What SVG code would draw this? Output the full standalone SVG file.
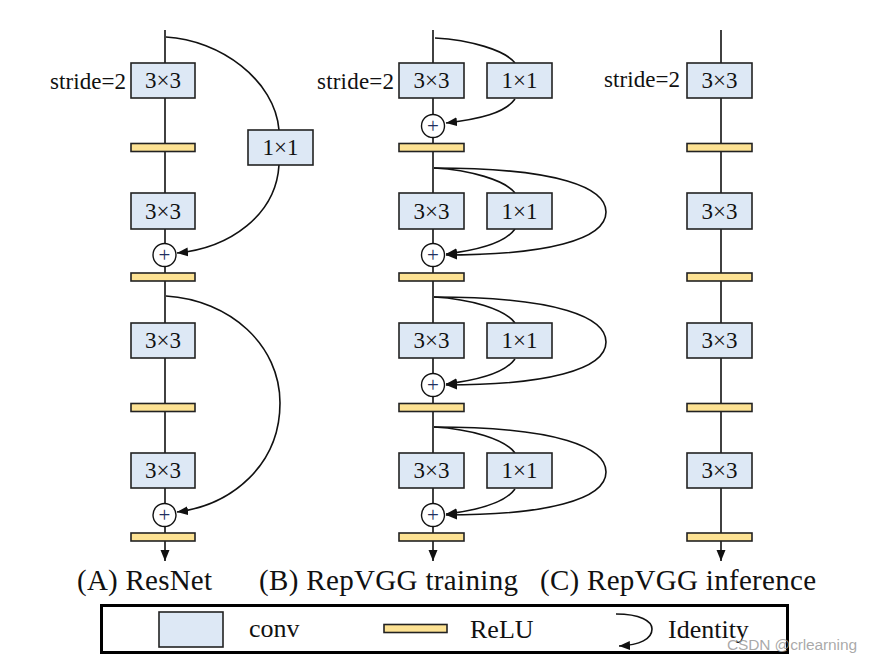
<svg xmlns="http://www.w3.org/2000/svg" width="872" height="662" viewBox="0 0 872 662">
<style>
.conv{fill:#dde8f5;stroke:#222;stroke-width:1.6}
.relu{fill:#fde293;stroke:#222;stroke-width:1.6}
.add{fill:#fff;stroke:#111;stroke-width:1.4}
.wire{fill:none;stroke:#111;stroke-width:1.6}
.arr{fill:none;stroke:#111;stroke-width:1.6;marker-end:url(#ah)}
.t{font-family:"Liberation Serif","Times New Roman",serif;fill:#111}
.lbl{font-size:23px;text-anchor:middle}
.plus{font-family:"Liberation Serif",serif;font-size:21px;text-anchor:middle;fill:#1f3060}
.cap{font-size:29px}
.leg{font-size:26px}
</style>
<defs>
<marker id="ah" markerUnits="userSpaceOnUse" markerWidth="12" markerHeight="10" refX="11" refY="4.5" orient="auto">
<path d="M0,0 L11,4.5 L0,9 z" fill="#111"/>
</marker>
</defs>
<rect width="872" height="662" fill="#fff"/>

<g id="connectors">
<!-- column A -->
<line class="wire" x1="165" y1="30" x2="165" y2="541"/>
<line class="arr" x1="165" y1="541" x2="165" y2="561"/>
<path class="wire" d="M166,37 C220,40 275,80 279,130"/>
<path class="arr" d="M279,165 C276,215 230,248 177,253"/>
<path class="arr" d="M166,296 C230,300 280,345 280,403 C280,465 232,505 177,512"/>
<!-- column B -->
<line class="wire" x1="433" y1="30" x2="433" y2="541"/>
<line class="arr" x1="433" y1="541" x2="433" y2="561"/>
<path class="wire" d="M435,38 C470,40 505,50 515,63"/>
<path class="arr" d="M515,99 C505,113 480,119 446,123"/>
<path class="wire" d="M434,168 C470,170 505,180 515,193"/>
<path class="arr" d="M515,229 C505,243 480,250 446,254"/>
<path class="arr" d="M434,168 C560,168 606,188 606,212 C606,240 545,255 446,255"/>
<path class="wire" d="M434,297 C470,299 505,309 515,323"/>
<path class="arr" d="M515,359 C505,373 480,380 446,384"/>
<path class="arr" d="M434,297 C560,297 606,318 606,342 C606,370 545,385 446,385"/>
<path class="wire" d="M434,427 C470,429 505,439 515,453"/>
<path class="arr" d="M515,489 C505,503 480,510 446,514"/>
<path class="arr" d="M434,427 C560,427 606,448 606,472 C606,500 545,515 446,515"/>
<!-- column C -->
<line class="wire" x1="721" y1="30" x2="721" y2="541"/>
<line class="arr" x1="721" y1="541" x2="721" y2="561"/>
</g>

<!-- column A nodes -->
<g id="a-conv1"><rect class="conv" x="131" y="63" width="64" height="35"/><text class="t lbl" x="163" y="88">3×3</text></g>
<text class="t" x="50" y="89" font-size="23" textLength="76">stride=2</text>
<g id="a-conv1x1"><rect class="conv" x="248" y="130" width="65" height="35"/><text class="t lbl" x="280.5" y="155">1×1</text></g>
<g id="a-relu1"><rect class="relu" x="131" y="143.5" width="64" height="8"/></g>
<g id="a-conv2"><rect class="conv" x="131" y="193" width="64" height="36"/><text class="t lbl" x="163" y="218.5">3×3</text></g>
<g id="a-add1"><circle class="add" cx="164.5" cy="255" r="11.5"/><text class="plus" x="164.5" y="262">+</text></g>
<g id="a-relu2"><rect class="relu" x="131" y="273" width="64" height="8"/></g>
<g id="a-conv3"><rect class="conv" x="131" y="323" width="64" height="35"/><text class="t lbl" x="163" y="348">3×3</text></g>
<g id="a-relu3"><rect class="relu" x="131" y="403.5" width="64" height="8"/></g>
<g id="a-conv4"><rect class="conv" x="131" y="453" width="64" height="35"/><text class="t lbl" x="163" y="478">3×3</text></g>
<g id="a-add2"><circle class="add" cx="164.5" cy="515" r="11.5"/><text class="plus" x="164.5" y="522">+</text></g>
<g id="a-relu4"><rect class="relu" x="131" y="533" width="64" height="8"/></g>

<!-- column B nodes -->
<text class="t" x="317" y="89" font-size="23" textLength="77">stride=2</text>
<g id="b-conv1"><rect class="conv" x="399" y="63" width="65" height="35"/><text class="t lbl" x="431.5" y="88">3×3</text></g>
<g id="b-1x1-1"><rect class="conv" x="487" y="63" width="65" height="35"/><text class="t lbl" x="519.5" y="88">1×1</text></g>
<g id="b-add1"><circle class="add" cx="433" cy="126" r="11.5"/><text class="plus" x="433" y="133">+</text></g>
<g id="b-relu1"><rect class="relu" x="399" y="143.5" width="65" height="8"/></g>
<g id="b-conv2"><rect class="conv" x="399" y="193" width="65" height="36"/><text class="t lbl" x="431.5" y="218.5">3×3</text></g>
<g id="b-1x1-2"><rect class="conv" x="487" y="193" width="65" height="36"/><text class="t lbl" x="519.5" y="218.5">1×1</text></g>
<g id="b-add2"><circle class="add" cx="433" cy="255" r="11.5"/><text class="plus" x="433" y="262">+</text></g>
<g id="b-relu2"><rect class="relu" x="399" y="273" width="65" height="8"/></g>
<g id="b-conv3"><rect class="conv" x="399" y="323" width="65" height="35"/><text class="t lbl" x="431.5" y="348">3×3</text></g>
<g id="b-1x1-3"><rect class="conv" x="487" y="323" width="65" height="35"/><text class="t lbl" x="519.5" y="348">1×1</text></g>
<g id="b-add3"><circle class="add" cx="433" cy="385" r="11.5"/><text class="plus" x="433" y="392">+</text></g>
<g id="b-relu3"><rect class="relu" x="399" y="403.5" width="65" height="8"/></g>
<g id="b-conv4"><rect class="conv" x="399" y="453" width="65" height="35"/><text class="t lbl" x="431.5" y="478">3×3</text></g>
<g id="b-1x1-4"><rect class="conv" x="487" y="453" width="65" height="35"/><text class="t lbl" x="519.5" y="478">1×1</text></g>
<g id="b-add4"><circle class="add" cx="433" cy="515" r="11.5"/><text class="plus" x="433" y="522">+</text></g>
<g id="b-relu4"><rect class="relu" x="399" y="533" width="65" height="8"/></g>

<!-- column C nodes -->
<text class="t" x="604" y="87" font-size="23" textLength="76">stride=2</text>
<g id="c-conv1"><rect class="conv" x="687" y="63" width="65" height="35"/><text class="t lbl" x="719.5" y="88">3×3</text></g>
<g id="c-relu1"><rect class="relu" x="687" y="143.5" width="65" height="8"/></g>
<g id="c-conv2"><rect class="conv" x="687" y="193" width="65" height="36"/><text class="t lbl" x="719.5" y="218.5">3×3</text></g>
<g id="c-relu2"><rect class="relu" x="687" y="273" width="65" height="8"/></g>
<g id="c-conv3"><rect class="conv" x="687" y="323" width="65" height="35"/><text class="t lbl" x="719.5" y="348">3×3</text></g>
<g id="c-relu3"><rect class="relu" x="687" y="403.5" width="65" height="8"/></g>
<g id="c-conv4"><rect class="conv" x="687" y="453" width="65" height="35"/><text class="t lbl" x="719.5" y="478">3×3</text></g>
<g id="c-relu4"><rect class="relu" x="687" y="533" width="65" height="8"/></g>

<!-- captions -->
<text class="t cap" x="77" y="590" textLength="135">(A) ResNet</text>
<text class="t cap" x="259" y="590" textLength="259">(B) RepVGG training</text>
<text class="t cap" x="540" y="590" textLength="276">(C) RepVGG inference</text>

<!-- legend -->
<g id="legend">
<rect x="101.5" y="605.5" width="686" height="47" fill="none" stroke="#000" stroke-width="3"/>
<rect class="conv" x="159" y="612" width="64" height="35"/>
<text class="t leg" x="249" y="637">conv</text>
<rect class="relu" x="384" y="624.5" width="63" height="8"/>
<text class="t leg" x="470" y="638">ReLU</text>
<path class="arr" d="M616,614 C640,614 652,621 652,629 C652,639 640,645 619,646"/>
<text class="t leg" x="668" y="638">Identity</text>
</g>
<text x="727" y="650" font-family="'Liberation Sans',Arial,sans-serif" font-size="15.5" fill="#9a9a9a" fill-opacity="0.85" textLength="130">CSDN @crlearning</text>
</svg>
